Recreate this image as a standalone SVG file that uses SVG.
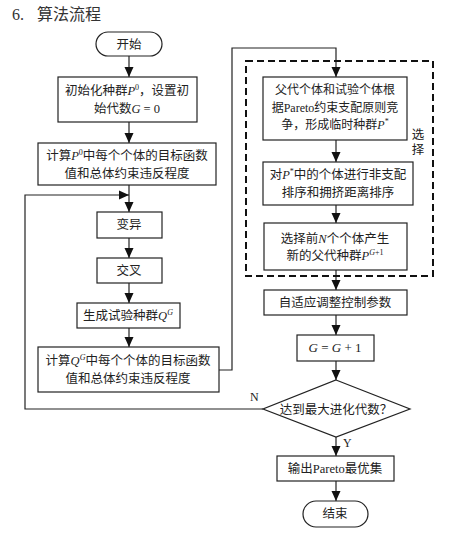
<svg xmlns="http://www.w3.org/2000/svg" width="474" height="535" viewBox="0 0 474 535">
<style>
.n{fill:#fff;stroke:#222;stroke-width:1.2}
.t{font-family:"Noto Sans CJK SC","Noto Sans CJK JP",sans-serif;font-size:12.5px;fill:#222;text-anchor:middle}
.i{font-family:"Liberation Serif",serif;font-style:italic}
.r{font-family:"Liberation Serif",serif}
.c{fill:none;stroke:#222;stroke-width:1.2}
</style>
<defs>
<marker id="a" markerUnits="userSpaceOnUse" markerWidth="10" markerHeight="10" viewBox="0 0 10 10" refX="10" refY="5" orient="auto">
<path d="M0,0.5 L10,5 L0,9.5 Z" fill="#111"/>
</marker>
</defs>
<rect width="474" height="535" fill="#fff"/>
<text x="12" y="19.5" style="font-family:'Liberation Serif',serif;font-size:16px;fill:#333">6.</text>
<text x="37" y="19.5" style="font-family:'Noto Sans CJK SC',sans-serif;font-size:16px;fill:#333">算法流程</text>

<g id="connectors">
<path class="c" d="M129,56 V77" marker-end="url(#a)"/>
<path class="c" d="M129,122 V143" marker-end="url(#a)"/>
<path class="c" d="M129,185 V212" marker-end="url(#a)"/>
<path class="c" d="M263,409 H25 V195 H129" marker-end="url(#a)"/>
<path class="c" d="M129,238 V258" marker-end="url(#a)"/>
<path class="c" d="M129,283 V303" marker-end="url(#a)"/>
<path class="c" d="M129,328 V347" marker-end="url(#a)"/>
<path class="c" d="M219,370 H232 V48 H336 V77" marker-end="url(#a)"/>
<path class="c" d="M336,140 V162" marker-end="url(#a)"/>
<path class="c" d="M336,205 V223" marker-end="url(#a)"/>
<path class="c" d="M336,270 V290" marker-end="url(#a)"/>
<path class="c" d="M336,315 V335" marker-end="url(#a)"/>
<path class="c" d="M336,361 V380" marker-end="url(#a)"/>
<path class="c" d="M336,437 V456" marker-end="url(#a)"/>
<path class="c" d="M336,481 V501" marker-end="url(#a)"/>
</g>

<g id="select-group">
<rect x="246" y="61" width="187" height="215" fill="none" stroke="#111" stroke-width="2" stroke-dasharray="7,4"/>
<text class="t" x="418" y="128" writing-mode="tb" style="text-anchor:start;letter-spacing:2.5px">选择</text>
</g>

<g id="start">
<rect class="n" x="96" y="32" width="66" height="24" rx="12"/>
<text class="t" x="129" y="49">开始</text>
</g>
<g id="init">
<rect class="n" x="58" y="77" width="139" height="45"/>
<text class="t"><tspan x="127" y="95">初始化种群</tspan><tspan class="i">P</tspan><tspan class="r" font-size="8" dy="-5">0</tspan><tspan dy="5">，设置初</tspan><tspan x="127" y="113">始代数</tspan><tspan class="i">G</tspan><tspan class="r"> = 0</tspan></text>
</g>
<g id="evalP">
<rect class="n" x="38" y="143" width="178" height="42"/>
<text class="t"><tspan x="127" y="160">计算</tspan><tspan class="i">P</tspan><tspan class="r" font-size="8" dy="-5">0</tspan><tspan dy="5">中每个个体的目标函数</tspan><tspan x="127" y="178">值和总体约束违反程度</tspan></text>
</g>
<g id="mutate">
<rect class="n" x="97" y="212" width="65" height="26"/>
<text class="t" x="129" y="229">变异</text>
</g>
<g id="cross">
<rect class="n" x="97" y="258" width="65" height="25"/>
<text class="t" x="129" y="275">交叉</text>
</g>
<g id="trial">
<rect class="n" x="77" y="303" width="103" height="25"/>
<text class="t" x="128" y="320">生成试验种群<tspan class="i">Q</tspan><tspan class="i" font-size="8" dy="-5">G</tspan></text>
</g>
<g id="evalQ">
<rect class="n" x="38" y="347" width="181" height="45"/>
<text class="t"><tspan x="128" y="365">计算</tspan><tspan class="i">Q</tspan><tspan class="i" font-size="8" dy="-5">G</tspan><tspan dy="5">中每个个体的目标函数</tspan><tspan x="128" y="383">值和总体约束违反程度</tspan></text>
</g>
<g id="compete">
<rect class="n" x="263" y="77" width="144" height="63"/>
<text class="t" style="font-size:12px"><tspan x="335" y="94">父代个体和试验个体根</tspan><tspan x="335" y="111.5">据</tspan><tspan class="r">Pareto</tspan><tspan>约束支配原则竞</tspan><tspan x="335" y="129">争，形成临时种群</tspan><tspan class="i">P</tspan><tspan class="r" font-size="8" dy="-5">*</tspan></text>
</g>
<g id="sort">
<rect class="n" x="263" y="162" width="150" height="43"/>
<text class="t"><tspan x="338" y="179">对</tspan><tspan class="i">P</tspan><tspan class="r" font-size="8" dy="-5">*</tspan><tspan dy="5">中的个体进行非支配</tspan><tspan x="338" y="197">排序和拥挤距离排序</tspan></text>
</g>
<g id="choose">
<rect class="n" x="264" y="223" width="143" height="47"/>
<text class="t"><tspan x="335" y="243">选择前</tspan><tspan class="i">N</tspan><tspan>个个体产生</tspan><tspan x="335" y="260">新的父代种群</tspan><tspan class="i">P</tspan><tspan class="i" font-size="8" dy="-5">G</tspan><tspan class="r" font-size="8">+1</tspan></text>
</g>
<g id="adapt">
<rect class="n" x="264" y="290" width="143" height="25"/>
<text class="t" x="335" y="307">自适应调整控制参数</text>
</g>
<g id="inc">
<rect class="n" x="297" y="335" width="77" height="26"/>
<text class="t" x="335" y="352" style="font-family:'Liberation Serif',serif;font-size:13px"><tspan font-style="italic">G</tspan> = <tspan font-style="italic">G</tspan> + 1</text>
</g>
<g id="decide">
<polygon class="n" points="336,380 410,409 336,437 263,409"/>
<text class="t" x="336" y="414">达到最大进化代数？</text>
<text x="250" y="401" style="font-family:'Liberation Serif',serif;font-size:12px;fill:#222">N</text>
<text x="343" y="447" style="font-family:'Liberation Serif',serif;font-size:12px;fill:#222">Y</text>
</g>
<g id="output">
<rect class="n" x="277" y="456" width="117" height="25"/>
<text class="t" x="335" y="473">输出<tspan class="r">Pareto</tspan>最优集</text>
</g>
<g id="end">
<rect class="n" x="303" y="501" width="65" height="26" rx="13"/>
<text class="t" x="335" y="518">结束</text>
</g>
</svg>
